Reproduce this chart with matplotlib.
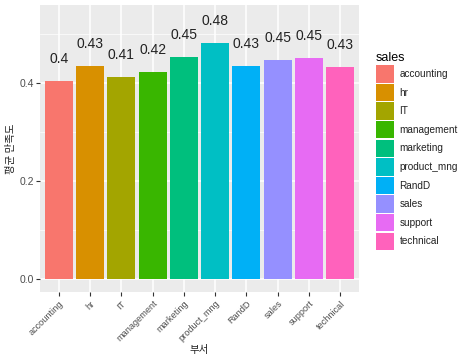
import numpy as np
import matplotlib
matplotlib.use("Agg")
import matplotlib.pyplot as plt
from matplotlib.patches import Patch

# data
depts = ["accounting", "hr", "IT", "management", "marketing",
         "product_mng", "RandD", "sales", "support", "technical"]
mean_sat = [0.404, 0.435, 0.412, 0.422, 0.453, 0.482, 0.435, 0.447, 0.451, 0.433]
bar_labels = ["0.4", "0.43", "0.41", "0.42", "0.45", "0.48", "0.43", "0.45", "0.45", "0.43"]
colors = ["#F8766D", "#D89000", "#A3A500", "#39B600", "#00BF7D",
          "#00BFC4", "#00B0F6", "#9590FF", "#E76BF3", "#FF62BC"]

plt.rcParams['font.family'] = ['Noto Sans CJK KR', 'DejaVu Sans']

W, H = 474, 362
fig = plt.figure(figsize=(W / 100, H / 100), dpi=100)
ax = fig.add_axes([40 / W, (H - 292) / H, 319 / W, 287 / H])
ax.set_facecolor("#EBEBEB")

x = np.arange(len(depts))
ax.bar(x, mean_sat, width=0.9, color=colors, zorder=3)
for xi, v, lab in zip(x, mean_sat, bar_labels):
    ax.text(xi, v + 0.045, lab, ha="center", va="center", fontsize=10,
            color="#222222", family="Liberation Sans", zorder=4)

ax.set_xlim(-0.6, len(depts) - 0.4)
ax.set_ylim(-0.0265, 0.559)
ax.set_yticks([0.0, 0.2, 0.4])
ax.set_yticklabels(["0.0", "0.2", "0.4"])
ax.set_yticks([0.1, 0.3, 0.5], minor=True)
ax.set_xticks(x)
ax.set_xticklabels(depts, rotation=45, ha="right", rotation_mode="anchor")

ax.grid(which="major", color="white", linewidth=1.1, zorder=0)
ax.grid(which="minor", axis="y", color="white", linewidth=0.5, zorder=0)
for s in ax.spines.values():
    s.set_visible(False)
ax.tick_params(axis="both", which="major", length=3, color="#333333",
               labelcolor="#4D4D4D", labelsize=7.5, pad=1.5)
ax.tick_params(axis="x", which="major", labelsize=6.6, pad=2)
ax.tick_params(axis="y", which="minor", length=0)
for t in ax.get_xticklabels() + ax.get_yticklabels():
    t.set_family("Liberation Sans")

ax.set_ylabel("평균 만족도", fontsize=7.5, color="#222222", labelpad=2)
ax.set_xlabel("부서", fontsize=7.5, color="#222222", labelpad=1)

handles = [Patch(facecolor=c, edgecolor="none") for c in colors]
leg = fig.legend(handles, depts, title="sales", loc="upper left",
                 bbox_to_anchor=(374 / W, 1 - 50 / H), frameon=False,
                 fontsize=7.2, title_fontsize=9, handlelength=1.75, handleheight=2.3,
                 handletextpad=0.6, labelspacing=0.12, borderaxespad=0,
                 borderpad=0.2)
leg._legend_box.align = "left"
for t in leg.get_texts():
    t.set_family("Liberation Sans")
    t.set_color("#222222")
leg.get_title().set_family("Liberation Sans")

fig.savefig("out.png", dpi=100, facecolor="white")
